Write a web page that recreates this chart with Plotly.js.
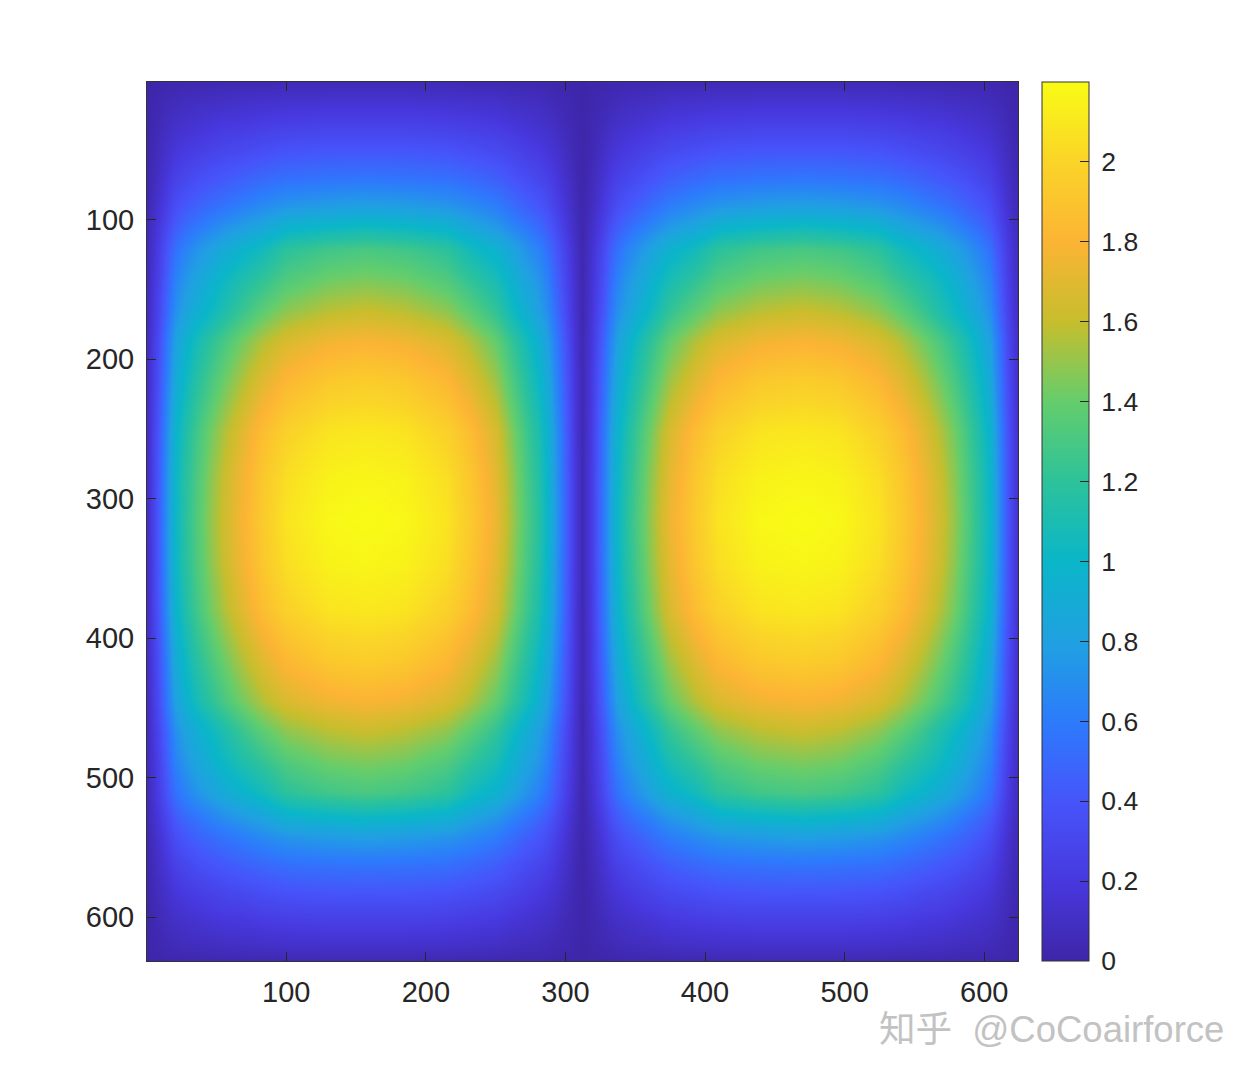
<!DOCTYPE html>
<html><head><meta charset="utf-8">
<script src="https://cdn.plot.ly/plotly-3.0.1.min.js"></script>
<style>html,body{margin:0;padding:0;background:#fff}</style></head>
<body><div id="chart" style="width:1256px;height:1080px"></div>
<script>
const xs=[1,8,13,20,27,36,46,56,68,82,100,130,157,185,215,232,250,262,272,280,287,292,298,306,312,318,326,332,337,344,352,362,374,392,409,439,471,497,524,542,556,568,578,588,597,604,611,616,624];
const ys=[1,15,30,50,70,90,102,121,143,166,187,215,252,285,316,347,380,417,445,466,489,511,530,542,562,582,602,617,630];
const r1=[.00,.01,.02,.02,.03,.03,.03,.04,.04,.04,.05,.05,.05,.05,.05,.04,.04,.03,.03,.03,.02,.02,.01,.01,.00,.01,.01,.02,.02,.03,.03,.03,.04,.04,.05,.05,.05,.05,.05,.04,.04,.04,.03,.03,.03,.02,.02,.01,.00];
const r2=[.01,.03,.05,.07,.08,.09,.10,.11,.12,.13,.14,.15,.15,.15,.14,.13,.12,.10,.09,.08,.07,.05,.04,.02,.00,.02,.04,.05,.07,.08,.09,.10,.12,.13,.14,.15,.15,.15,.14,.13,.12,.11,.10,.09,.08,.07,.05,.03,.01];
const r3=[.01,.05,.08,.11,.13,.15,.17,.19,.20,.22,.24,.25,.25,.25,.24,.22,.20,.17,.15,.13,.11,.09,.06,.03,.01,.03,.06,.09,.11,.13,.15,.17,.20,.22,.24,.25,.25,.25,.24,.22,.20,.19,.17,.15,.13,.11,.08,.05,.01];
const r4=[.02,.08,.12,.18,.21,.24,.27,.30,.32,.35,.38,.40,.40,.40,.38,.35,.32,.28,.24,.21,.18,.15,.10,.04,.01,.04,.10,.15,.18,.21,.24,.28,.32,.35,.38,.40,.40,.40,.38,.35,.32,.30,.27,.24,.21,.18,.12,.08,.02];
const r5=[.03,.11,.17,.26,.30,.35,.39,.42,.46,.50,.54,.56,.57,.56,.54,.50,.45,.39,.34,.30,.26,.21,.14,.06,.01,.06,.14,.21,.26,.30,.34,.39,.45,.50,.54,.56,.57,.56,.54,.50,.46,.42,.39,.35,.30,.26,.17,.11,.03];
const r6=[.04,.15,.23,.35,.41,.47,.52,.57,.62,.68,.74,.78,.80,.78,.74,.68,.61,.53,.46,.41,.35,.28,.19,.08,.02,.08,.19,.28,.35,.41,.46,.53,.61,.68,.74,.78,.80,.78,.74,.68,.62,.57,.52,.47,.41,.35,.23,.15,.04];
const r7=[.06,.18,.28,.42,.49,.56,.63,.69,.75,.81,.92,.97,1.00,.97,.92,.81,.73,.63,.56,.49,.42,.34,.23,.10,.02,.10,.23,.34,.42,.49,.56,.63,.73,.81,.92,.97,1.00,.97,.92,.81,.75,.69,.63,.56,.49,.42,.28,.18,.06];
const r8=[.07,.23,.36,.54,.63,.73,.81,.89,.97,1.05,1.19,1.27,1.30,1.27,1.19,1.05,.95,.83,.72,.64,.54,.44,.30,.13,.03,.13,.30,.44,.54,.64,.72,.83,.95,1.05,1.19,1.27,1.30,1.27,1.19,1.05,.97,.89,.81,.73,.63,.54,.36,.23,.07];
const r9=[.08,.26,.41,.63,.73,.84,.94,1.03,1.12,1.21,1.33,1.42,1.45,1.42,1.33,1.21,1.09,.95,.83,.74,.63,.50,.34,.15,.03,.15,.34,.50,.63,.74,.83,.95,1.09,1.21,1.33,1.42,1.45,1.42,1.33,1.21,1.12,1.03,.94,.84,.73,.63,.41,.26,.08];
const r10=[.09,.29,.46,.70,.81,.93,1.03,1.13,1.25,1.37,1.49,1.58,1.62,1.58,1.49,1.37,1.22,1.05,.92,.81,.70,.56,.38,.16,.03,.16,.38,.56,.70,.81,.92,1.05,1.22,1.37,1.49,1.58,1.62,1.58,1.49,1.37,1.25,1.13,1.03,.93,.81,.70,.46,.29,.09];
const r11=[.10,.33,.53,.80,.93,1.08,1.20,1.31,1.43,1.55,1.67,1.76,1.79,1.76,1.67,1.55,1.39,1.22,1.07,.94,.80,.64,.44,.18,.04,.18,.44,.64,.80,.94,1.07,1.22,1.39,1.55,1.67,1.76,1.79,1.76,1.67,1.55,1.43,1.31,1.20,1.08,.93,.80,.53,.33,.10];
const r12=[.11,.36,.57,.87,1.01,1.17,1.30,1.42,1.55,1.68,1.82,1.92,1.95,1.92,1.82,1.68,1.51,1.32,1.16,1.02,.87,.70,.48,.20,.04,.20,.48,.70,.87,1.02,1.16,1.32,1.51,1.68,1.82,1.92,1.95,1.92,1.82,1.68,1.55,1.42,1.30,1.17,1.01,.87,.57,.36,.11];
const r13=[.12,.40,.63,.96,1.11,1.28,1.43,1.56,1.70,1.85,1.98,2.08,2.10,2.08,1.98,1.85,1.66,1.45,1.27,1.12,.96,.77,.53,.21,.04,.21,.53,.77,.96,1.12,1.27,1.45,1.66,1.85,1.98,2.08,2.10,2.08,1.98,1.85,1.70,1.56,1.43,1.28,1.11,.96,.63,.40,.12];
const r14=[.12,.41,.65,.99,1.15,1.32,1.48,1.62,1.76,1.91,2.05,2.15,2.17,2.15,2.05,1.91,1.71,1.50,1.31,1.16,.99,.79,.54,.22,.04,.22,.54,.79,.99,1.16,1.31,1.50,1.71,1.91,2.05,2.15,2.17,2.15,2.05,1.91,1.76,1.62,1.48,1.32,1.15,.99,.65,.41,.12];
const r15=[.12,.42,.66,1.00,1.16,1.34,1.50,1.64,1.78,1.93,2.08,2.18,2.20,2.18,2.08,1.93,1.74,1.52,1.33,1.18,1.00,.80,.55,.22,.04,.22,.55,.80,1.00,1.18,1.33,1.52,1.74,1.93,2.08,2.18,2.20,2.18,2.08,1.93,1.78,1.64,1.50,1.34,1.16,1.00,.66,.42,.12];
const zRows=[r1,r2,r3,r4,r5,r6,r7,r8,r9,r10,r11,r12,r13,r14,r15,r14,r13,r12,r11,r10,r9,r8,r7,r6,r5,r4,r3,r2,r1];
const axisTicks=[100,200,300,400,500,600];
const cbVals=[0,.2,.4,.6,.8,1,1.2,1.4,1.6,1.8,2];
const cbText=['0','0.2','0.4','0.6','0.8','1','1.2','1.4','1.6','1.8','2'];
const parula=[[0,'rgb(62,38,168)'],[.09,'rgb(71,56,222)'],[.18,'rgb(70,84,250)'],[.27,'rgb(45,122,252)'],[.36,'rgb(32,160,226)'],[.4545,'rgb(10,182,200)'],[.545,'rgb(44,194,155)'],[.636,'rgb(100,205,108)'],[.727,'rgb(198,190,45)'],[.818,'rgb(252,180,52)'],[.909,'rgb(250,212,40)'],[1,'rgb(249,251,21)']];
const ink='#262626';
const ax={range:[.2,624.2],tickvals:axisTicks,ticktext:axisTicks.map(String),ticks:'inside',ticklen:9,tickwidth:1,tickcolor:ink,showline:true,linewidth:1,linecolor:'#333',mirror:'ticks',showgrid:false,zeroline:false,ticklabelstandoff:5,tickfont:{family:'Liberation Sans',size:29,color:ink}};
Plotly.newPlot('chart',[{type:'heatmap',x:xs,y:ys,z:zRows,zmin:0,zmax:2.2,zsmooth:'best',colorscale:parula,
 colorbar:{x:(1043-146.5)/872,xanchor:'left',xref:'paper',y:0,yanchor:'bottom',yref:'paper',len:1,lenmode:'fraction',thickness:47,thicknessmode:'pixels',xpad:0,ypad:0,tickmode:'array',tickvals:cbVals,ticktext:cbText,ticks:'inside',ticklen:9,tickwidth:1,tickcolor:ink,outlinewidth:1,outlinecolor:'#333',tickfont:{family:'Liberation Sans',size:26.5,color:ink}}}],
 {width:1256,height:1080,margin:{l:146.5,r:237.5,t:81.5,b:119},paper_bgcolor:'#fff',plot_bgcolor:'#fff',
 xaxis:Object.assign({},ax),yaxis:Object.assign({},ax,{range:[631.5,1.1],ticklabelstandoff:6}),
 annotations:[{text:'知乎&nbsp;&nbsp;@CoCoairforce',xref:'paper',yref:'paper',x:(877-146.5)/872,y:(961-1030)/880,xanchor:'left',yanchor:'middle',showarrow:false,font:{family:'Liberation Sans, Noto Sans CJK SC',size:36.5,color:'#c2c2c2'}}]},
 {displayModeBar:false,responsive:false}).then(function(){
  document.querySelectorAll('.colorbar text').forEach(function(t){
    var x=parseFloat(t.getAttribute('x')||0);t.setAttribute('x',x+6);
  });
 });
</script></body></html>
